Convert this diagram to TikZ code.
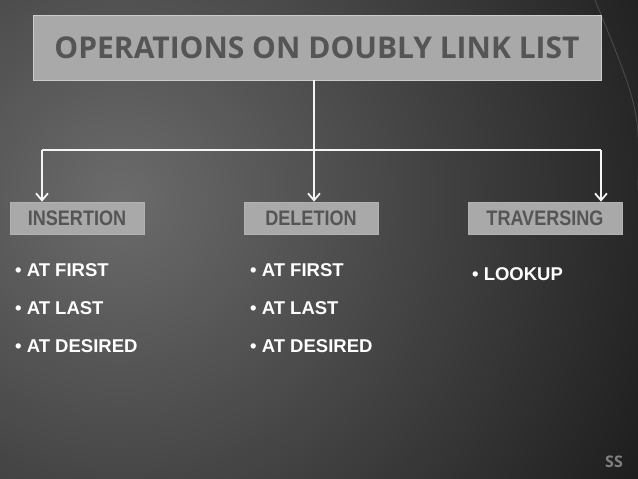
\documentclass[tikz,border=0pt]{standalone}
\usepackage{fontspec}
\setmainfont{Liberation Sans}
\newfontfamily\titlefont{Open Sans}
\newfontfamily\narrowfont[FakeStretch=0.86]{Liberation Sans}
\usetikzlibrary{arrows.meta}
\definecolor{boxgray}{HTML}{A9A9A9}
\definecolor{txtgray}{HTML}{555555}
\begin{document}
\begin{tikzpicture}[x=1pt,y=-1pt,
  catbox/.style={fill=boxgray,draw=gray!60,line width=0.6pt,text=txtgray,font=\narrowfont\bfseries\fontsize{21}{21}\selectfont,minimum height=32pt,inner sep=0pt},
  item/.style={text=white,font=\bfseries\fontsize{18.5}{18.5}\selectfont,anchor=west,inner sep=0pt},
  conn/.style={draw=white!92!gray,line width=1.8pt,-{Straight Barb[length=7pt,width=12pt,line width=1.8pt]}}]
\useasboundingbox (0,0) rectangle (638,479);
\begin{scope}
\clip (0,0) rectangle (638,479);
\shade[inner color=black!58, outer color=black!90] (120,200) circle (620);
\end{scope}
\draw[black!72,line width=1pt] (595,0) .. controls (640,110) .. (638,190);
\node[fill=boxgray,draw=gray!40,minimum width=568pt,minimum height=65pt,inner sep=0pt,text=txtgray,font=\titlefont\bfseries\fontsize{30}{30}\selectfont] (title) at (317,47.5) {OPERATIONS ON DOUBLY LINK LIST};
\node[catbox,minimum width=134pt] (ins) at (77,218) {INSERTION};
\node[catbox,minimum width=134pt] (del) at (311,218) {DELETION};
\node[catbox,minimum width=154pt] (tra) at (545,218) {TRAVERSING};
\coordinate (j) at (314,150);
\coordinate (jl) at (42,150);
\coordinate (jr) at (601,150);
\draw[draw=white!92!gray,line width=1.8pt] (title.south -| j) -- (j);
\draw[draw=white!92!gray,line width=1.8pt] (jl) -- (jr);
\draw[conn] (jl) -- (jl |- ins.north);
\draw[conn] (j) -- (j |- del.north);
\draw[conn] (jr) -- (jr |- tra.north);
\node[item] (i1) at (15,270) {• AT FIRST};
\node[item] (i2) at (15,308) {• AT LAST};
\node[item] (i3) at (15,346) {• AT DESIRED};
\node[item] (d1) at (250,270) {• AT FIRST};
\node[item] (d2) at (250,308) {• AT LAST};
\node[item] (d3) at (250,346) {• AT DESIRED};
\node[item] (t1) at (472,274) {• LOOKUP};
\node[text=gray,font=\titlefont\bfseries\fontsize{16}{16}\selectfont] (ss) at (614,462) {SS};
\end{tikzpicture}
\end{document}
